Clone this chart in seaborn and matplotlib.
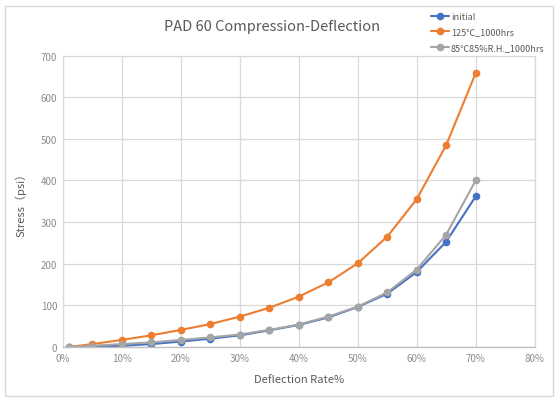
import matplotlib
matplotlib.use("Agg")
import matplotlib.pyplot as plt
import seaborn as sns
import pandas as pd
from matplotlib.patches import Rectangle
from matplotlib.lines import Line2D
from matplotlib.ticker import FuncFormatter

# ---- data ----
deflection = [0.01, 0.05, 0.10, 0.15, 0.20, 0.25, 0.30, 0.35, 0.40, 0.45, 0.50, 0.55, 0.60, 0.65, 0.70]
initial = [0, 1, 3, 7, 13, 20, 28, 40, 53, 71, 96, 128, 180, 253, 362]
hot_125 = [0, 7, 17, 28, 41, 55, 73, 94, 121, 155, 201, 265, 355, 485, 658]
humid_85 = [0, 3, 7, 11, 17, 23, 30, 41, 54, 73, 97, 131, 186, 270, 400]
series_names = ["initial", "125\u2103_1000hrs", "85\u210385%R.H._1000hrs"]
colors = ["#4472C4", "#ED7D31", "#A5A5A5"]
yticks = [0, 100, 200, 300, 400, 500, 600, 700]
xticks = [0, 0.1, 0.2, 0.3, 0.4, 0.5, 0.6, 0.7, 0.8]

df = pd.concat([
    pd.DataFrame({"x": deflection, "y": vals, "series": name})
    for name, vals in zip(series_names, [initial, hot_125, humid_85])
])

sns.set_theme(style="whitegrid")
plt.rcParams["font.family"] = ["Noto Sans CJK SC", "DejaVu Sans"]

fig = plt.figure(figsize=(5.6, 4.02), dpi=100)
fig.patch.set_facecolor("white")
ax = fig.add_axes([62.7 / 560, 1 - 348 / 402, (534.7 - 62.7) / 560, (348 - 56.6) / 402])

sns.lineplot(data=df, x="x", y="y", hue="series", hue_order=series_names,
             palette=colors, marker="o", markersize=5.5, markeredgewidth=0,
             linewidth=1.5, ax=ax, legend=False, sort=False)

ax.set_xlim(0, 0.8)
ax.set_ylim(0, 700)
ax.set_xticks(xticks)
ax.set_yticks(yticks)
ax.xaxis.set_major_formatter(FuncFormatter(lambda v, p: f"{int(round(v * 100))}%"))
ax.grid(True, color="#d9d9d9", linewidth=0.9)
ax.tick_params(axis="both", length=0, labelsize=7, colors="#8c8c8c", pad=4)
for s in ["top", "right", "left"]:
    ax.spines[s].set_color("#d9d9d9")
    ax.spines[s].set_linewidth(0.9)
ax.spines["bottom"].set_color("#bfbfbf")
ax.spines["bottom"].set_linewidth(1.0)
ax.set_facecolor("white")

ax.set_xlabel("Deflection Rate%", fontsize=8, color="#595959", labelpad=8)
ax.set_ylabel("Stress\uff08psi\uff09", fontsize=8, color="#595959", labelpad=10)

fig.text(272 / 560, 1 - 26.7 / 402, "PAD 60 Compression-Deflection",
         ha="center", va="center", fontsize=10.5, color="#595959")

# legend
handles = [Line2D([0], [0], color=c, lw=1.5, marker="o", markersize=5.5, markeredgewidth=0)
           for c in colors]
leg = fig.legend(handles, series_names, loc="upper left",
                 bbox_to_anchor=(431 / 560, 1 - 13 / 402), frameon=False,
                 fontsize=6.5, handlelength=2.0, handletextpad=0.2,
                 labelspacing=0.72, borderpad=0, borderaxespad=0)
for t in leg.get_texts():
    t.set_color("#595959")

fig.patches.append(Rectangle((5 / 560, 1 - 397 / 402), 548 / 560, 390 / 402,
                             transform=fig.transFigure, fill=False,
                             edgecolor="#d9d9d9", linewidth=1.0))

fig.savefig("out.png", dpi=100)
